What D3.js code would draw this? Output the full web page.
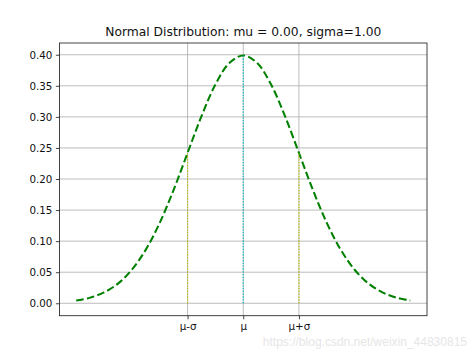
<!DOCTYPE html>
<html><head><meta charset="utf-8">
<script src="https://cdn.jsdelivr.net/npm/d3@7"></script>
<style>body{margin:0;background:#fff}svg{display:block;font-family:"DejaVu Sans",sans-serif}</style>
</head><body>
<script>
// Curve samples (x in sigma units, y = density)
const curveX = [-3,-2.75,-2.5,-2.25,-2,-1.75,-1.5,-1.25,-1,-0.75,-0.5,-0.25,0,0.25,0.5,0.75,1,1.25,1.5,1.75,2,2.25,2.5,2.75,3];
const curveY = [0.0044,0.0091,0.0175,0.0317,0.0540,0.0863,0.1295,0.1826,0.2420,0.3011,0.3521,0.3867,0.3989,0.3867,0.3521,0.3011,0.2420,0.1826,0.1295,0.0863,0.0540,0.0317,0.0175,0.0091,0.0044];
// Reference lines
const markX = [-1, 0, 1];
const markTop = [0.2420, 0.3989, 0.2420];
const markColor = ["#bfbf00", "#00bfbf", "#bfbf00"];
const xTickVals = [-1, 0, 1];
const xTickLabels = ["μ-σ", "μ", "μ+σ"];
const yTickVals = [0, 0.05, 0.10, 0.15, 0.20, 0.25, 0.30, 0.35, 0.40];
const titleText = "Normal Distribution: mu = 0.00, sigma=1.00";
const watermark = "https://blog.csdn.net/weixin_44830815";

const W = 474, H = 355;
const L = 59.5, R = 427, T = 43, B = 315.7;
const svg = d3.select("body").append("svg").attr("width", W).attr("height", H);

const x = d3.scaleLinear().domain([-3.3, 3.3]).range([L, R]);
const y = d3.scaleLinear().domain([-0.02, 0.4189]).range([B, T]);

// grid
const g = svg.append("g");
g.selectAll("line.hg").data(yTickVals).join("line")
  .attr("x1", L).attr("x2", R).attr("y1", d => y(d)).attr("y2", d => y(d))
  .attr("stroke", "#b0b0b0").attr("stroke-width", 0.85);
g.selectAll("line.vg").data(xTickVals).join("line")
  .attr("y1", T).attr("y2", B).attr("x1", d => x(d)).attr("x2", d => x(d))
  .attr("stroke", "#b0b0b0").attr("stroke-width", 0.85);

// curve
const pts = curveX.map((v, i) => [v, curveY[i]]);
svg.append("path").datum(pts)
  .attr("d", d3.line().x(d => x(d[0])).y(d => y(d[1])).curve(d3.curveCatmullRom))
  .attr("fill", "none").attr("stroke", "#008000").attr("stroke-width", 2.05)
  .attr("stroke-dasharray", "7.6,3.3");

// vertical markers
svg.selectAll("line.mk").data(markX).join("line")
  .attr("x1", d => x(d)).attr("x2", d => x(d))
  .attr("y1", y(0)).attr("y2", (d, i) => y(markTop[i]))
  .attr("stroke", (d, i) => markColor[i]).attr("stroke-width", 1.2)
  .attr("stroke-dasharray", "1.3,1.5");

// axes
const xAxis = d3.axisBottom(x).tickValues(xTickVals).tickFormat((d, i) => xTickLabels[i]).tickSize(3.6).tickPadding(3.5);
const yAxis = d3.axisLeft(y).tickValues(yTickVals).tickFormat(d3.format(".2f")).tickSize(3.6).tickPadding(3.5);
const ax = svg.append("g").attr("transform", `translate(0,${B})`).call(xAxis);
const ay = svg.append("g").attr("transform", `translate(${L},0)`).call(yAxis);
[ax, ay].forEach(a => {
  a.select(".domain").remove();
  a.selectAll("line").attr("stroke", "#222").attr("stroke-width", 0.85);
  a.selectAll("text").attr("fill", "#111").style("font-size", "10.3px").style("font-family", '"DejaVu Sans",sans-serif');
});
svg.append("rect").attr("x", L).attr("y", T).attr("width", R - L).attr("height", B - T)
  .attr("fill", "none").attr("stroke", "#222").attr("stroke-width", 0.85);

// title
svg.append("text").attr("x", (L + R) / 2).attr("y", 36).attr("text-anchor", "middle")
  .style("font-size", "12.3px").attr("fill", "#111").text(titleText);

// watermark
svg.append("text").attr("x", 467).attr("y", 346).attr("text-anchor", "end")
  .style("font-size", "12px").style("font-family", '"Liberation Sans",Arial,sans-serif')
  .attr("fill", "#e6e6e6").text(watermark);
</script>
</body></html>
